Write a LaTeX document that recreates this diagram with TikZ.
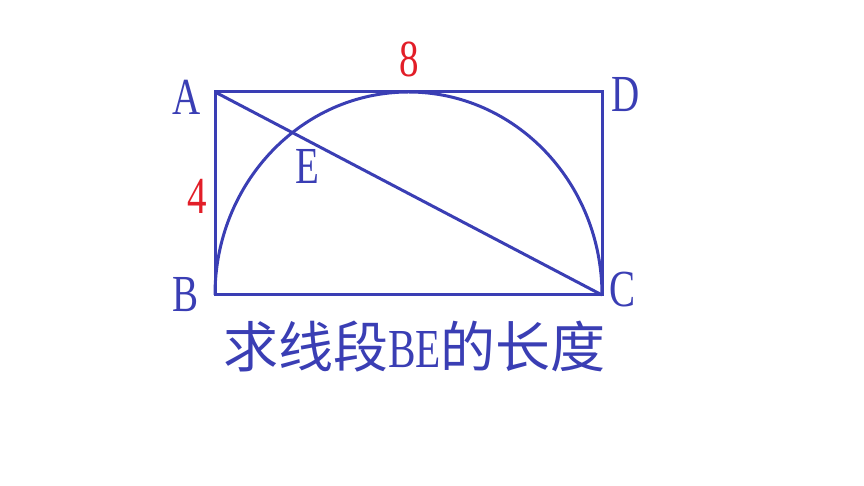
\documentclass[tikz,border=0pt]{standalone}
\usepackage{fontspec}
\usepackage{tikz}
\newfontfamily\labfont[FakeStretch=0.75]{Liberation Serif}
\newfontfamily\cjk{Noto Sans CJK SC}
\definecolor{penblue}{RGB}{58,62,180}
\definecolor{penred}{RGB}{226,30,40}

\begin{document}
\begin{tikzpicture}[x=1pt,y=1pt,line width=3pt,
  lab/.style={text=penblue,font=\labfont\fontsize{52}{52}\selectfont,inner sep=0pt},
  num/.style={lab,text=penred}]
\useasboundingbox (0,0) rectangle (864,486);

% corners of the rectangle
\coordinate (A) at (215,394);
\coordinate (D) at (602,394);
\coordinate (C) at (602,191);
\coordinate (B) at (215,191);

\node (la) at (186.5,389) [lab] {A};
\node (lb) at (186,191.5) [lab] {B};
\node (lc) at (622,196) [lab] {C};
\node (ld) at (626,391) [lab] {D};
\node (le) at (307,320) [lab] {E};
\node (ab) at (197,289.5) [num] {4};
\node (ad) at (409,427) [num] {8};

\draw[penblue] (A) -- (D) -- (C) -- (B) -- cycle;
\draw[penblue] (A) -- (C);
\draw[penblue] (B) arc[start angle=180,end angle=0,x radius=193.5,y radius=203];

\node (q) at (414.5,139) [lab,font=\labfont\fontsize{55}{55}\selectfont] {{\cjk 求线段}BE{\cjk 的长度}};

\end{tikzpicture}
\end{document}
